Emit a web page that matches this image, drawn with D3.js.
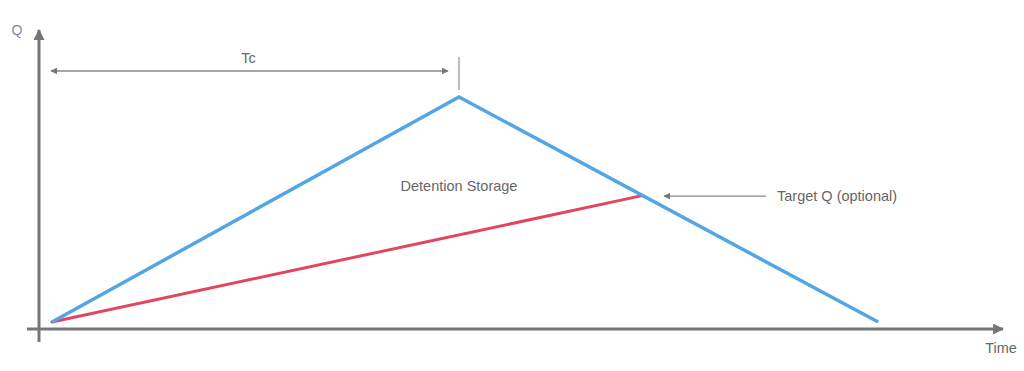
<!DOCTYPE html>
<html>
<head>
	<title>Detention Storage Hydrograph</title>
	<script type="text/javascript" src="https://d3js.org/d3.v7.min.js"></script>
	<style>
		body { margin: 0; background: #fff; }
		text { font-family: "Liberation Sans", Arial, sans-serif; fill: #666; }
	</style>
</head>
<body>

	<script type="text/javascript">
		// inflow hydrograph (triangle), time in arbitrary units with Tc = 10
		var hydroTime = [0, 10, 20.3];
		var hydroQ = [3, 100, 3];

		// target outflow line
		var targetTime = [0, 14.5];
		var targetQ = [3, 57.5];

		var tc = 10;
		var labels = { q: "Q", time: "Time", tc: "Tc", storage: "Detention Storage", target: "Target Q (optional)" };

		var width = 1024, height = 371;

		var svg = d3.select("body").append("svg").attr("width", width).attr("height", height);

		var x = d3.scaleLinear().domain([0, 10]).range([52, 459]);
		var y = d3.scaleLinear().domain([0, 100]).range([329, 97]);

		var axisColor = "#767676";
		var annColor = "#888";

		var defs = svg.append("defs");
		function marker(id, color, w, h) {
			defs.append("marker")
				.attr("id", id)
				.attr("viewBox", "0 0 10 10")
				.attr("refX", 9).attr("refY", 5)
				.attr("markerWidth", w).attr("markerHeight", h)
				.attr("markerUnits", "userSpaceOnUse")
				.attr("orient", "auto-start-reverse")
				.append("path")
				.attr("d", "M0,0 L10,5 L0,10 z")
				.attr("fill", color);
		}
		marker("axisArrow", axisColor, 11, 11);
		marker("annArrow", "#777", 7, 7);

		// axes
		svg.append("line")
			.attr("x1", 39).attr("y1", 342)
			.attr("x2", 39).attr("y2", 30)
			.attr("stroke", axisColor).attr("stroke-width", 3)
			.attr("marker-end", "url(#axisArrow)");
		svg.append("line")
			.attr("x1", 27).attr("y1", y(0))
			.attr("x2", 1003).attr("y2", y(0))
			.attr("stroke", axisColor).attr("stroke-width", 3)
			.attr("marker-end", "url(#axisArrow)");

		svg.append("text").attr("x", 17).attr("y", 35)
			.attr("text-anchor", "middle").style("font-size", "14px").style("fill", "#7a8a9a")
			.text(labels.q);
		svg.append("text").attr("x", 1001).attr("y", 353)
			.attr("text-anchor", "middle").style("font-size", "14.5px")
			.text(labels.time);

		var line = d3.line().x(function (d) { return x(d[0]); }).y(function (d) { return y(d[1]); });

		// target outflow (red)
		svg.append("path")
			.datum(d3.zip(targetTime, targetQ))
			.attr("d", line)
			.attr("fill", "none").attr("stroke", "#e34560").attr("stroke-width", 3)
			.attr("stroke-linecap", "round");

		// inflow hydrograph (blue)
		svg.append("path")
			.datum(d3.zip(hydroTime, hydroQ))
			.attr("d", line)
			.attr("fill", "none").attr("stroke", "#54a6e2").attr("stroke-width", 3.5)
			.attr("stroke-linejoin", "miter");

		// Tc dimension arrow
		var tcY = y(111.2);
		svg.append("line")
			.attr("x1", x(0) - 1).attr("y1", tcY)
			.attr("x2", x(tc) - 11).attr("y2", tcY)
			.attr("stroke", annColor).attr("stroke-width", 1.3)
			.attr("marker-start", "url(#annArrow)")
			.attr("marker-end", "url(#annArrow)");
		svg.append("line")
			.attr("x1", x(tc)).attr("y1", y(117.2))
			.attr("x2", x(tc)).attr("y2", y(103))
			.attr("stroke", "#999").attr("stroke-width", 1.3);
		svg.append("text").attr("x", x(tc / 2) - 7).attr("y", 63)
			.attr("text-anchor", "middle").style("font-size", "14.5px")
			.text(labels.tc);

		// storage label
		svg.append("text").attr("x", x(tc)).attr("y", 191)
			.attr("text-anchor", "middle").style("font-size", "14.5px")
			.text(labels.storage);

		// target annotation
		var tY = y(targetQ[1]) + 0.5;
		svg.append("line")
			.attr("x1", 766).attr("y1", tY)
			.attr("x2", 664).attr("y2", tY)
			.attr("stroke", annColor).attr("stroke-width", 1.3)
			.attr("marker-end", "url(#annArrow)");
		svg.append("text").attr("x", 777).attr("y", tY + 5)
			.style("font-size", "14.5px")
			.text(labels.target);
	</script>
</body>
</html>
